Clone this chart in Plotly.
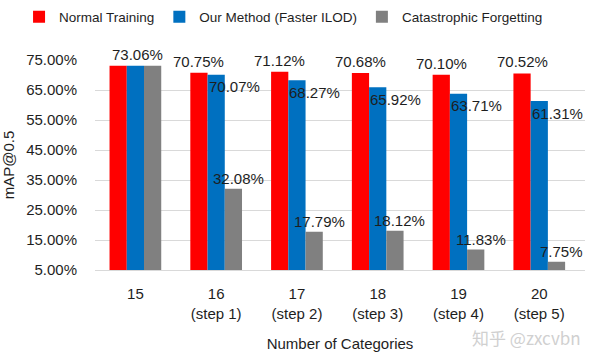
import plotly.graph_objects as go

categories = ["15", "16<br>(step 1)", "17<br>(step 2)", "18<br>(step 3)", "19<br>(step 4)", "20<br>(step 5)"]
normal_training = [73.06, 70.75, 71.12, 70.68, 70.10, 70.52]
our_method = [73.06, 70.07, 68.27, 65.92, 63.71, 61.31]
catastrophic = [73.06, 32.08, 17.79, 18.12, 11.83, 7.75]
y_ticks = [5, 15, 25, 35, 45, 55, 65, 75]
y_tick_labels = [f"{v:.2f}%" for v in y_ticks]

series = [
    ("Normal Training", normal_training, "#FF0000"),
    ("Our Method (Faster ILOD)", our_method, "#0070C0"),
    ("Catastrophic Forgetting", catastrophic, "#808080"),
]

FONT = "Liberation Sans, Arial, sans-serif"
TXT = "#1e1e1e"
bargap = 0.36
bw = (1 - bargap) / len(series)

fig = go.Figure()
for name, vals, col in series:
    fig.add_trace(go.Bar(x=categories, y=vals, name=name, marker=dict(color=col, line=dict(width=0))))

ann = []
for i in range(len(categories)):
    if i == 0:
        ann.append(dict(x=i, y=our_method[i], text=f"{our_method[i]:.2f}%", yanchor="bottom", xshift=2, yshift=1))
        continue
    ann.append(dict(x=i - bw, y=normal_training[i], text=f"{normal_training[i]:.2f}%", yanchor="bottom", yshift=1))
    ann.append(dict(x=i, y=our_method[i], text=f"{our_method[i]:.2f}%", yanchor="middle", xshift=18, yshift=-12))
    ann.append(dict(x=i + bw, y=catastrophic[i], text=f"{catastrophic[i]:.2f}%", yanchor="bottom", xshift=5, yshift=0))
for a in ann:
    a.update(xref="x", yref="y", showarrow=False, xanchor="center", font=dict(family=FONT, size=15, color=TXT))

ann.append(dict(xref="paper", yref="paper", x=0.995, y=-0.32, xanchor="right", yanchor="middle",
                text="知乎 @zxcvbn", showarrow=False,
                font=dict(family="Noto Sans CJK SC, sans-serif", size=17, color="#d0d0d0")))

fig.update_layout(
    width=596, height=356,
    margin=dict(l=95, r=11, t=60, b=86, autoexpand=False),
    paper_bgcolor="white", plot_bgcolor="white",
    barmode="group", bargap=bargap, bargroupgap=0,
    font=dict(family=FONT, size=15, color=TXT),
    annotations=ann,
    legend=dict(orientation="h", xref="paper", yref="paper", x=-0.155, y=1.205,
                xanchor="left", yanchor="middle", font=dict(size=13.5, color=TXT),
                itemwidth=30, tracegroupgap=0, borderwidth=0),
    xaxis=dict(showgrid=False, showline=True, linecolor="#d9d9d9", linewidth=1,
               tickfont=dict(size=15, color=TXT), ticklabelstandoff=10,
               title=dict(text="Number of Categories", font=dict(size=15, color=TXT), standoff=17)),
    yaxis=dict(range=[5, 75], tickmode="array", tickvals=y_ticks, ticktext=y_tick_labels,
               showgrid=True, gridcolor="#d9d9d9", gridwidth=1, zeroline=False,
               tickfont=dict(size=15, color=TXT), ticklabelstandoff=17,
               title=dict(text="mAP@0.5", font=dict(size=15, color=TXT), standoff=9)),
)

fig.write_html("out.html", config={"displayModeBar": False},
               post_script="document.body.style.margin='0px';")
